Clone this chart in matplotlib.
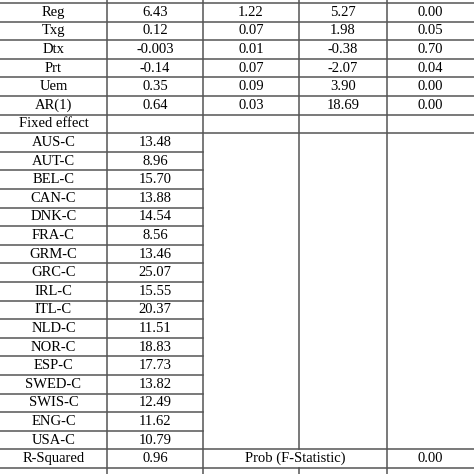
import matplotlib.pyplot as plt
from matplotlib.lines import Line2D

plt.rcParams['font.family'] = ['Liberation Serif', 'DejaVu Serif']

variables = ['Reg', 'Txg', 'Dtx', 'Prt', 'Uem', 'AR(1)']
coef = ['6.43', '0.12', '-0.003', '-0.14', '0.35', '0.64']
std_err = ['1.22', '0.07', '0.01', '0.07', '0.09', '0.03']
t_stat = ['5.27', '1.98', '-0.38', '-2.07', '3.90', '18.69']
prob = ['0.00', '0.05', '0.70', '0.04', '0.00', '0.00']

countries = ['AUS-C', 'AUT-C', 'BEL-C', 'CAN-C', 'DNK-C', 'FRA-C', 'GRM-C', 'GRC-C',
             'IRL-C', 'ITL-C', 'NLD-C', 'NOR-C', 'ESP-C', 'SWED-C', 'SWIS-C', 'ENG-C', 'USA-C']
fixed = ['13.48', '8.96', '15.70', '13.88', '14.54', '8.56', '13.46', '25.07',
         '15.55', '20.37', '11.51', '18.83', '17.73', '13.82', '12.49', '11.62', '10.79']

r_squared = '0.96'
prob_f = '0.00'

W, H = 474, 474
fig = plt.figure(figsize=(W / 100, H / 100), dpi=100)
ax = fig.add_axes([0, 0, 1, 1])
ax.set_xlim(0, W)
ax.set_ylim(H, 0)
ax.axis('off')

cols = [0, 107, 203, 299, 387, 474]
centers = [(cols[i] + cols[i + 1]) / 2 for i in range(5)]
top = 3.0
rh = 18.6
lc = '#555555'
fs = 10.5


def hline(y, x0=0, x1=W):
    ax.add_line(Line2D([x0, x1], [y, y], color=lc, lw=1.1))


def vline(x, y0, y1):
    ax.add_line(Line2D([x, x], [y0, y1], color=lc, lw=1.1))


def cell(text, col, row, x=None):
    y = top + rh * (row + 0.5)
    ax.text(centers[col] if x is None else x, y, text, ha='center', va='center', fontsize=fs)


n_rows = len(variables) + 1 + len(countries) + 1
bottom = top + rh * n_rows

# rows with full grid
for i, vals in enumerate(zip(variables, coef, std_err, t_stat, prob)):
    for c, v in enumerate(vals):
        cell(v, c, i)

fe_row = len(variables)
cell('Fixed effect', 0, fe_row)
for j, (name, val) in enumerate(zip(countries, fixed)):
    cell(name, 0, fe_row + 1 + j)
    cell(val, 1, fe_row + 1 + j)

last = n_rows - 1
cell('R-Squared', 0, last)
cell(r_squared, 1, last)
cell('Prob (F-Statistic)', 0, last, x=(cols[2] + cols[4]) / 2)
cell(prob_f, 4, last)

# horizontal lines
for r in range(fe_row + 2):
    hline(top + rh * r)
for r in range(fe_row + 2, last):
    hline(top + rh * r, 0, cols[2])
hline(top + rh * last)
hline(bottom)

# vertical lines
for x in cols[1:5]:
    if x == cols[3]:
        vline(x, 0, top + rh * last)
        vline(x, bottom, H)
    else:
        vline(x, 0, H)

fig.savefig('out.png', dpi=100)
